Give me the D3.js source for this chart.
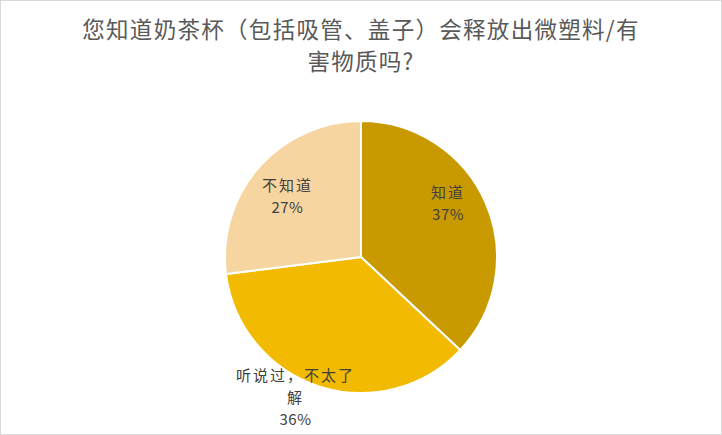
<!DOCTYPE html>
<html>
<head>
<meta charset="utf-8">
<script src="https://cdn.jsdelivr.net/npm/d3@7"></script>
<style>
  html, body { margin: 0; padding: 0; background: #fff; }
  svg { display: block; }
</style>
</head>
<body>
<div id="chart"></div>
<script>
// data
const categories = ["知道", "听说过，不太了解", "不知道"];
const values = [37, 36, 27];
const labelLines = [["知道", "37%"], ["听说过，不太了", "解", "36%"], ["不知道", "27%"]];
const colors = ["#C99A00", "#F2BA00", "#F7D5A0"];
const titleLines = ["您知道奶茶杯（包括吸管、盖子）会释放出微塑料/有", "害物质吗?"];

const width = 722, height = 435;
const cx = 361, cy = 257, radius = 136;

const svg = d3.select("#chart").append("svg")
    .attr("width", width)
    .attr("height", height);

// chart border
svg.append("rect")
    .attr("x", 0.5).attr("y", 0.5)
    .attr("width", width - 1).attr("height", height - 1)
    .attr("fill", "#fff")
    .attr("stroke", "#d9d9d9")
    .attr("stroke-width", 1);

// title
svg.append("g").selectAll("text")
    .data(titleLines)
    .join("text")
    .attr("x", width / 2)
    .attr("y", (d, i) => 38 + i * 32)
    .attr("text-anchor", "middle")
    .attr("fill", "#595959")
    .style("font-family", "'Noto Sans CJK SC', sans-serif")
    .style("font-size", "22.5px")
    .style("letter-spacing", "1.3px")
    .text(d => d);

const pie = d3.pie().sort(null).value(d => d);
const arcs = pie(values);

const arc = d3.arc().innerRadius(0).outerRadius(radius);

const g = svg.append("g")
    .attr("transform", `translate(${cx},${cy})`);

g.selectAll("path")
    .data(arcs)
    .join("path")
    .attr("d", arc)
    .attr("fill", (d, i) => colors[i])
    .attr("stroke", "#fff")
    .attr("stroke-width", 2);

// label placement (best-fit style like the source): radius factor + angle shift in degrees
const labelLayout = [
    { r: 0.75, shift: -8 },
    { r: 1.14, shift: 7 },
    { r: 0.70, shift: -2 }
];
const lineHeight = 22;

const labels = g.selectAll("g.label")
    .data(arcs)
    .join("g")
    .attr("class", "label")
    .attr("transform", (d, i) => {
        const a = (d.startAngle + d.endAngle) / 2 + labelLayout[i].shift * Math.PI / 180;
        const rr = radius * labelLayout[i].r;
        return `translate(${rr * Math.sin(a)},${-rr * Math.cos(a)})`;
    });

labels.each(function(d, i) {
    const lines = labelLines[i];
    const n = lines.length;
    d3.select(this).selectAll("text")
        .data(lines)
        .join("text")
        .attr("x", 0)
        .attr("y", (t, j) => (j - (n - 1) / 2) * lineHeight)
        .attr("dy", "0.35em")
        .attr("text-anchor", "middle")
        .attr("fill", "#404040")
        .style("font-family", "'Noto Sans CJK SC', sans-serif")
        .style("font-size", "15px")
        .style("letter-spacing", t => /%/.test(t) ? "0.5px" : "2px")
        .text(t => t);
});
</script>
</body>
</html>
